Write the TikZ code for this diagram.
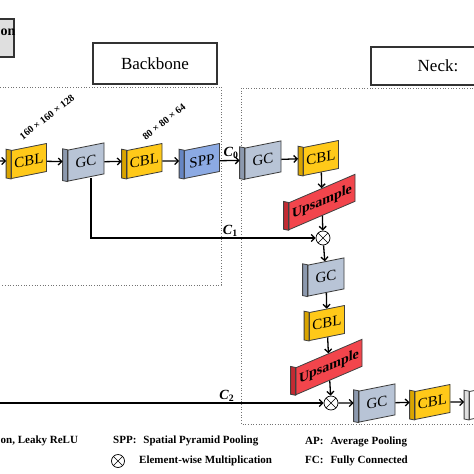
\documentclass[tikz,border=0pt]{standalone}
\usepackage{fontspec}
\setmainfont{Liberation Serif}
\usetikzlibrary{positioning, arrows.meta, calc}

\definecolor{cblc}{HTML}{FFC919}
\definecolor{cblside}{HTML}{D9A400}
\definecolor{gcc}{HTML}{B8C4D6}
\definecolor{gcside}{HTML}{8C99AE}
\definecolor{sppc}{HTML}{8CAAE3}
\definecolor{sppside}{HTML}{6685C2}
\definecolor{upc}{HTML}{F2454C}
\definecolor{upside}{HTML}{C42A32}

\tikzset{
  blk/.style={draw=black!75, line width=0.8pt, inner sep=0pt, yslant=0.2, minimum width=35, minimum height=28, font=\fontsize{15}{15}\selectfont},
  cbl/.style={blk, fill=cblc},
  gc/.style={blk, fill=gcc, minimum width=36, minimum height=31},
  spp/.style={blk, fill=sppc},
  ups/.style={blk, fill=upc, minimum width=66, minimum height=27, yslant=0.23, font=\bfseries\fontsize{14}{14}\selectfont},
  mult/.style={circle, draw, fill=white, line width=0.7pt, minimum size=14, inner sep=0pt,
    path picture={\draw[line width=0.6pt] (path picture bounding box.north west) -- (path picture bounding box.south east)
      (path picture bounding box.north east) -- (path picture bounding box.south west);}},
  arr/.style={-{Straight Barb[length=3.5pt,width=7pt]}, line width=1.3pt},
  title/.style={draw=black!80, line width=1.1pt, inner sep=0pt, font=\fontsize{17}{17}\selectfont},
  legend/.style={font=\bfseries\fontsize{11}{11}\selectfont, anchor=west, inner sep=0pt},
  clabel/.style={font=\bfseries\fontsize{14}{14}\selectfont, inner sep=1pt},
  dimlabel/.style={font=\bfseries\fontsize{10}{10}\selectfont, rotate=38, inner sep=0pt},
  region/.style={dotted, line width=0.7pt, black!55}
}

% thin darker side face on the left of a block
\newcommand{\sideface}[2]{\filldraw[draw=black!75, line width=0.8pt, fill=#2] (#1.north west) -- ($(#1.north west)+(-5,-1)$) -- ($(#1.south west)+(-5,-1)$) -- (#1.south west) -- cycle;}

\begin{document}
\begin{tikzpicture}[x=1pt, y=-1pt]
\useasboundingbox[fill=white] (0,0) rectangle (474,474);

% dotted regions
\draw[region] (-5,87) rectangle (221,285);
\draw[region] (241,88) rectangle (480,424);

% titles
\fill[gray!25] (-30,19) rectangle (14,57);
\draw[black!80, line width=1.1pt] (-30,19) rectangle (14,57);
\node[font=\bfseries\fontsize{14}{14}\selectfont, anchor=west, inner sep=0pt] (convtitle) at (0.5,32) {on};
\node[title, minimum width=124, minimum height=41] (bbtitle) at (155,63.5) {Backbone};
\node[title, minimum width=134, minimum height=38] (necktitle) at (438,66) {Neck:};

% backbone
\node[cbl] (cbl1) at (29,161) {CBL};
\node[gc] (gc1) at (86,162) {GC};
\node[cbl] (cbl2) at (144.5,161) {CBL};
\node[spp] (spp) at (202,161) {SPP};
\sideface{cbl1}{cblside}
\sideface{gc1}{gcside}
\sideface{cbl2}{cblside}
\sideface{spp}{sppside}

\node[dimlabel] (dim1) at (47,117) {160 × 160 × 128};
\node[dimlabel] (dim2) at (164,122) {80 × 80 × 64};

% neck
\node[gc] (gcn) at (263,160) {GC};
\node[cbl] (cbln) at (321,158) {CBL};
\node[ups] (ups1) at (322,202) {Upsample};
\node[mult] (ot1) at (323,238) {};
\node[gc] (gc2) at (326,277) {GC};
\node[cbl] (cbl3) at (327,323) {CBL};
\node[ups] (ups2) at (329,367) {Upsample};
\node[mult] (ot2) at (331,403) {};
\node[gc] (gc3) at (377,403) {GC};
\node[cbl] (cbl4) at (432.5,402) {CBL};
\node[blk, fill=white] (outblk) at (487,402) {};
\sideface{gcn}{gcside}
\sideface{cbln}{cblside}
\sideface{ups1}{upside}
\sideface{gc2}{gcside}
\sideface{cbl3}{cblside}
\sideface{ups2}{upside}
\sideface{gc3}{gcside}
\sideface{cbl4}{cblside}
\sideface{outblk}{gray!25}

% connectors
\coordinate (in1) at (-10,161);
\coordinate (in2) at (-10,403);
\draw[arr, shorten >=5pt] (in1) -- (cbl1);
\draw[arr, shorten >=5pt] (cbl1) -- (gc1);
\draw[arr, shorten >=5pt] (gc1) -- (cbl2);
\draw[arr, shorten >=5pt] (cbl2) -- (spp);
\draw[arr, shorten >=5pt] (spp) -- node[clabel, above, pos=0.45] {\textit{C}\textsubscript{0}} (gcn);
\draw[arr, shorten >=5pt] (gcn) -- (cbln);
\draw[arr] (cbln) -- (ups1);
\draw[arr] (ups1) -- (ot1);
\draw[arr] ([xshift=5pt]gc1.south) |- node[clabel, above, pos=0.81] {\textit{C}\textsubscript{1}} (ot1);
\draw[arr] (ot1) -- (gc2);
\draw[arr] (gc2) -- (cbl3);
\draw[arr] (cbl3) -- (ups2);
\draw[arr] (ups2) -- (ot2);
\draw[arr] (in2) -- node[clabel, above, pos=0.71] {\textit{C}\textsubscript{2}} (ot2);
\draw[arr, shorten >=5pt] (ot2) -- (gc3);
\draw[arr, shorten >=5pt] (gc3) -- (cbl4);
\draw[arr, shorten >=5pt] (cbl4) -- (outblk);

% legend
\node[legend] (legcbl) at (0.5,441) {on, Leaky ReLU};
\node[legend] (legspp) at (113,441) {SPP:\hspace{7pt}Spatial Pyramid Pooling};
\node[mult, minimum size=13] (legmult) at (118,461) {};
\node[legend] (legmulttext) at (139,461) {Element-wise Multiplication};
\node[legend] (legap) at (305,442) {AP:\hspace{7pt}Average Pooling};
\node[legend] (legfc) at (305,461) {FC:\hspace{7pt}Fully Connected};
\end{tikzpicture}
\end{document}
